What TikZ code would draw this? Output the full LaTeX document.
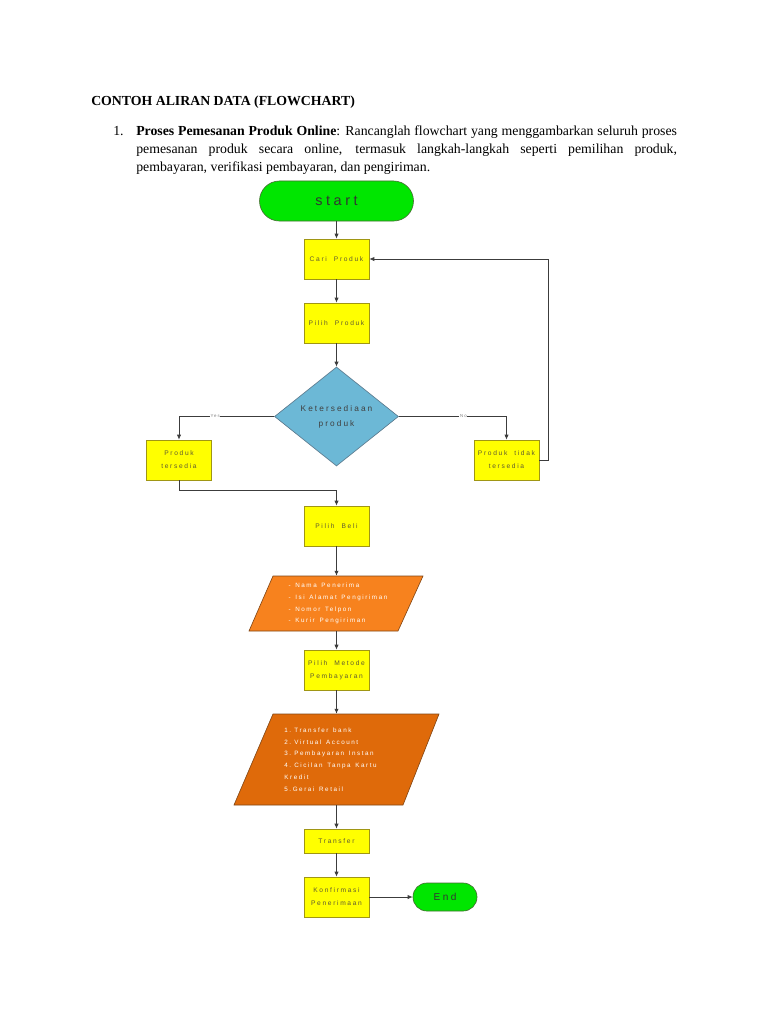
\documentclass[tikz,border=0pt]{standalone}
\usepackage{fontspec}
\setmainfont{Liberation Serif}
\newfontfamily\flowfont[LetterSpace=25,WordSpace=2]{Liberation Sans}
\usetikzlibrary{shapes.geometric,arrows.meta}
\definecolor{boxyellow}{RGB}{255,255,0}
\definecolor{boxline}{RGB}{160,150,20}
\definecolor{boxtext}{RGB}{95,90,50}
\definecolor{termgreen}{RGB}{0,230,0}
\definecolor{termline}{RGB}{70,110,50}
\definecolor{decblue}{RGB}{108,184,214}
\definecolor{decline}{RGB}{90,120,140}
\definecolor{dataorange}{RGB}{247,130,30}
\definecolor{payorange}{RGB}{223,106,10}
\definecolor{orangeline}{RGB}{130,70,20}
\definecolor{flowline}{RGB}{60,60,60}
\newcommand\widegap{\spaceskip=0.75em\relax}
\tikzset{
  process/.style={draw=boxline, fill=boxyellow, line width=0.5pt,
    minimum width=51.8pt, minimum height=31.9pt, inner sep=0pt,
    align=center, text=boxtext, font=\flowfont\fontsize{5.3}{10.4}\selectfont},
  terminal/.style={draw=termline, fill=termgreen, line width=0.5pt,
    inner sep=0pt, text=black!80},
  decision/.style={diamond, draw=decline, fill=decblue, line width=0.5pt,
    aspect=1.25, minimum width=98.8pt, minimum height=78.9pt, inner sep=0pt,
    align=center, text=black!75, font=\flowfont\fontsize{6.6}{12}\selectfont},
  datatext/.style={inner sep=0pt, align=left, text=white,
    font=\flowfont\fontsize{5}{9.4}\selectfont},
  flow/.style={draw=flowline, line width=0.6pt, -{Latex[length=4pt,width=3.4pt]}},
  branch/.style={fill=white, inner sep=0.5pt, text=black!50,
    font=\flowfont\fontsize{3.5}{4}\selectfont}
}
\begin{document}
\begin{tikzpicture}[x=0.797pt,y=-0.797pt]
	\path[use as bounding box, fill=white] (0,0) rectangle (768,1024);
	% heading
	\node[anchor=base west, inner sep=0pt, font=\fontsize{11}{14.3}\selectfont\bfseries] (title) at (91,105) {CONTOH ALIRAN DATA (FLOWCHART)};
	\node[anchor=base west, inner sep=0pt, font=\fontsize{11}{14.3}\selectfont] (num) at (113,135) {1.};
	\node[anchor=north west, inner sep=0pt, text width=431pt, align=justify,
	  font=\fontsize{11}{14.3}\selectfont] (task) at (136,125.6)
	  {\textbf{Proses Pemesanan Produk Online}: Rancanglah flowchart yang menggambarkan seluruh proses\linebreak
	   pemesanan produk secara online, termasuk langkah-langkah seperti pemilihan produk,\linebreak
	   pembayaran, verifikasi pembayaran, dan pengiriman.};
	% shapes
	\node[terminal, minimum width=122.7pt, minimum height=31.9pt, rounded corners=15.9pt,
	  font=\flowfont\fontsize{11.5}{14}\selectfont] (start) at (336.5,201) {start};
	\node[process] (cari) at (336.5,259) {Cari Produk};
	\node[process] (pilih) at (336.5,323) {Pilih Produk};
	\node[decision] (stok) at (336.5,416.5) {Ketersediaan\\produk};
	\node[process] (ada) at (179,460) {Produk\\tersedia};
	\node[process] (habis) at (506.5,460) {Produk tidak\\tersedia};
	\node[process] (beli) at (336.5,526) {Pilih Beli};
	\draw[fill=dataorange, draw=orangeline, line width=0.5pt] (273,576) -- (423,576) -- (398,631) -- (249,631) -- cycle;
	\node[datatext, text width=76.5pt, minimum height=43.8pt] (penerima) at (336.5,603.5)
	  {\widegap- Nama Penerima\\- Isi Alamat Pengiriman\\- Nomor Telpon\\- Kurir Pengiriman};
	\node[process] (metode) at (336.5,670) {Pilih Metode\\Pembayaran};
	\draw[fill=payorange, draw=orangeline, line width=0.5pt] (273,714) -- (439,714) -- (403,805) -- (234,805) -- cycle;
	\node[datatext, text width=83pt, minimum height=72.5pt] (opsi) at (336.5,759.5)
	  {\widegap 1. Transfer bank\\2. Virtual Account\\3. Pembayaran Instan\\4. Cicilan Tanpa Kartu\\Kredit\\5.Gerai Retail};
	\node[process, minimum height=19.1pt] (transfer) at (336.5,841) {Transfer};
	\node[process] (konfirmasi) at (336.5,897) {Konfirmasi\\Penerimaan};
	\node[terminal, minimum width=51pt, minimum height=22.3pt, rounded corners=11pt,
	  font=\flowfont\fontsize{8}{10}\selectfont] (finish) at (445,897) {End};
	% connectors
	\coordinate (balik) at (548,259);
	\coordinate (gabung) at (336.5,490);
	\draw[flow] (start) -- (cari);
	\draw[flow] (cari) -- (pilih);
	\draw[flow] (pilih) -- (stok);
	\draw[flow] (stok.west) -| node[branch, pos=0.31] {Yes} (ada.north);
	\draw[flow] (stok.east) -| node[branch, pos=0.3] {No} (habis.north);
	\draw[flow] (habis.east) -| (balik) -- (cari.east);
	\draw[flow] (ada.south) |- (gabung) -- (beli.north);
	\draw[flow] (beli) -- (penerima.north);
	\draw[flow] (penerima.south) -- (metode);
	\draw[flow] (metode) -- (opsi.north);
	\draw[flow] (opsi.south) -- (transfer);
	\draw[flow] (transfer) -- (konfirmasi);
	\draw[flow] (konfirmasi) -- (finish);
\end{tikzpicture}
\end{document}
